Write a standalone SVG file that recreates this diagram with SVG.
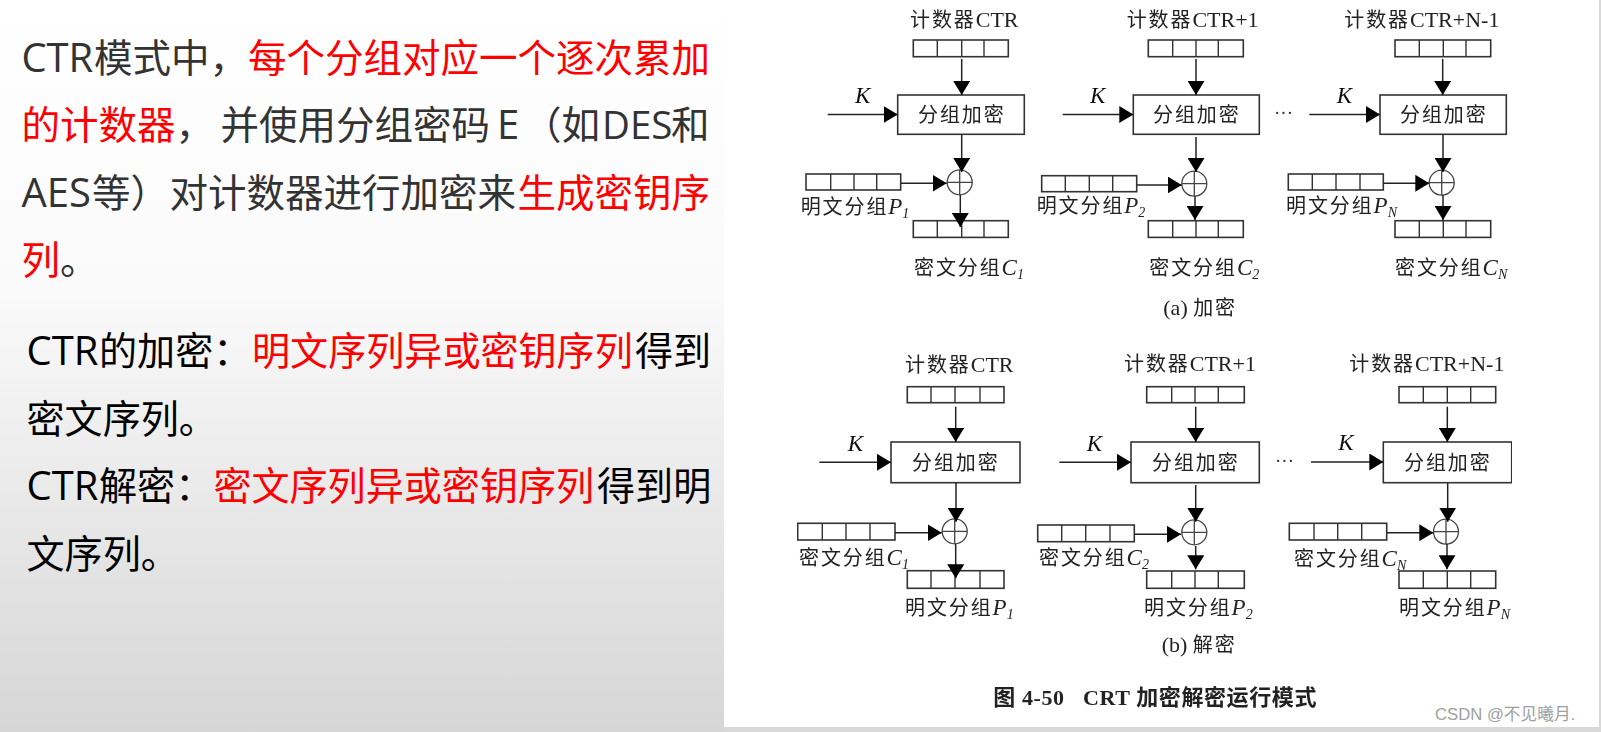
<svg xmlns="http://www.w3.org/2000/svg" width="1601" height="732" viewBox="0 0 1601 732">
<style>
.t{font-family:"Liberation Serif","Noto Sans CJK SC",serif;font-size:22px;fill:#222}
.cj{font-family:"Noto Sans CJK SC",sans-serif;font-size:20px;letter-spacing:1.9px}
.i{font-style:italic;font-size:23px}
.s{font-style:italic;font-size:14px}
.k{font-family:"Liberation Serif",serif;font-style:italic;font-size:23px;fill:#111}
.cell{fill:#fff;stroke:#333;stroke-width:1.6}
.out{fill:none;stroke:#333;stroke-width:1.6}
.div{fill:none;stroke:#333;stroke-width:1.4}
.enc{fill:#fff;stroke:#333;stroke-width:1.6}
.xor{fill:#fff;stroke:#444;stroke-width:1.3}
.con{fill:none;stroke:#222;stroke-width:1.5;marker-end:url(#ah)}
.dots{font-family:"Liberation Serif",serif;font-size:19px;fill:#333}
.p{font-family:"Open Sans","Noto Sans CJK SC",sans-serif;font-size:38.5px}
.q{font-size:38.1px}
.lat{font-size:40px}
.r{fill:#f00}
.d{fill:#333}
.b{fill:#000}
</style>
<defs>
<linearGradient id="bg" x1="0" y1="0" x2="0" y2="1"><stop offset="0" stop-color="#fff"/><stop offset="0.4" stop-color="#fafafa"/><stop offset="1" stop-color="#d6d6d6"/></linearGradient>
<marker id="ah" markerUnits="userSpaceOnUse" markerWidth="15" markerHeight="17" refX="14" refY="8.5" orient="auto"><path d="M0 0L14 8.5L0 17Z" fill="#000"/></marker>
<filter id="soft" x="0" y="0" width="1" height="1" filterUnits="objectBoundingBox"><feGaussianBlur stdDeviation="0.45"/></filter>
</defs>
<rect width="1601" height="732" fill="#d9d9d9"/>
<rect id="left-panel" width="724" height="732" fill="url(#bg)"/>
<rect id="right-panel" x="724" width="875" height="727" fill="#fff"/>

<g id="left-text">
<text class="p d" x="21.4" y="72"><tspan class="lat">CTR</tspan><tspan x="94">模式中，</tspan><tspan class="r" x="248">每个分组对应一个逐次累加</tspan></text>
<text class="p r" x="21.4" y="139">的计数器<tspan class="d">，</tspan><tspan class="d" x="220.5">并使用分组密码</tspan><tspan class="d lat" x="497">E</tspan><tspan class="d" x="523">（如</tspan><tspan class="d" x="602">DES</tspan><tspan class="d" x="671">和</tspan></text>
<text class="p d" x="21.4" y="207"><tspan class="lat">AES</tspan><tspan x="92">等）</tspan><tspan x="169.5">对计数器进行加密来</tspan><tspan class="r" x="517.6">生成密钥序</tspan></text>
<text class="p r" x="21.4" y="274">列<tspan class="d">。</tspan></text>
<text class="p q b" x="26.5" y="365"><tspan class="lat">CTR</tspan><tspan x="99">的加密：</tspan><tspan class="r" x="252">明文序列异或密钥序列</tspan><tspan x="635">得到</tspan></text>
<text class="p q b" x="26.5" y="433">密文序列。</text>
<text class="p q b" x="26.5" y="500"><tspan class="lat">CTR</tspan><tspan x="99">解密：</tspan><tspan class="r" x="213.4">密文序列异或密钥序列</tspan><tspan x="597">得到明</tspan></text>
<text class="p q b" x="26.5" y="568">文序列。</text>
</g>

<g id="diagram" filter="url(#soft)">
<g id="a1-ctr"><text class="t" x="910" y="26.7"><tspan class="cj">计数器</tspan>CTR</text><rect class="cell" x="913.3" y="40" width="95" height="16.7"/><path class="div" d="M937.3 40v16.7M961.7 40v16.7M984 40v16.7"/></g>
<g id="a1-enc"><text class="k" x="855" y="103">K</text><rect class="enc" x="897.7" y="95" width="126.6" height="39.3"/><text class="t" x="918" y="122"><tspan class="cj">分组加密</tspan></text></g>
<g id="a1-in"><rect class="cell" x="806" y="174" width="94.7" height="16"/><path class="div" d="M830.7 174v16M854 174v16M876.7 174v16"/><text class="t" x="800.7" y="214"><tspan class="cj">明文分组</tspan><tspan class="i">P</tspan><tspan class="s" dy="4">1</tspan></text></g>
<g id="a1-xor"><circle class="xor" cx="959.7" cy="182.3" r="12.5"/><path class="xor" d="M947.2 182.3h25M959.7 169.8v25"/></g>
<g id="a1-out"><rect class="out" x="913.3" y="220.7" width="95" height="16.7"/><path class="div" d="M937.3 220.7v16.7M961.7 220.7v16.7M984 220.7v16.7"/><text class="t" x="914" y="275"><tspan class="cj">密文分组</tspan><tspan class="i">C</tspan><tspan class="s" dy="4">1</tspan></text></g>

<g id="a2-ctr"><text class="t" x="1126.7" y="26.7"><tspan class="cj">计数器</tspan>CTR+1</text><rect class="cell" x="1148.3" y="40" width="95" height="16.7"/><path class="div" d="M1172.7 40v16.7M1196 40v16.7M1218.3 40v16.7"/></g>
<g id="a2-enc"><text class="k" x="1090" y="103">K</text><rect class="enc" x="1133.3" y="95" width="126" height="39.3"/><text class="t" x="1153" y="122"><tspan class="cj">分组加密</tspan></text></g>
<g id="a2-in"><rect class="cell" x="1041.7" y="175.7" width="95" height="16"/><path class="div" d="M1065.3 175.7v16M1089.3 175.7v16M1112.7 175.7v16"/><text class="t" x="1036.7" y="213"><tspan class="cj">明文分组</tspan><tspan class="i">P</tspan><tspan class="s" dy="4">2</tspan></text></g>
<g id="a2-xor"><circle class="xor" cx="1194.3" cy="183.7" r="12.5"/><path class="xor" d="M1181.8 183.7h25M1194.3 171.2v25"/></g>
<g id="a2-out"><rect class="out" x="1148.3" y="220.7" width="95" height="16.7"/><path class="div" d="M1172.7 220.7v16.7M1196 220.7v16.7M1218.3 220.7v16.7"/><text class="t" x="1149.3" y="275"><tspan class="cj">密文分组</tspan><tspan class="i">C</tspan><tspan class="s" dy="4">2</tspan></text></g>

<text id="a-dots" class="dots" x="1274" y="119">···</text>

<g id="a3-ctr"><text class="t" x="1344.3" y="26.7"><tspan class="cj">计数器</tspan>CTR+N-1</text><rect class="cell" x="1395" y="40" width="95.7" height="16.7"/><path class="div" d="M1419.3 40v16.7M1443.3 40v16.7M1466 40v16.7"/></g>
<g id="a3-enc"><text class="k" x="1336.7" y="103">K</text><rect class="enc" x="1380" y="95" width="126.3" height="39.3"/><text class="t" x="1400" y="122"><tspan class="cj">分组加密</tspan></text></g>
<g id="a3-in"><rect class="cell" x="1288.3" y="174" width="95" height="16"/><path class="div" d="M1312.3 174v16M1336 174v16M1360 174v16"/><text class="t" x="1286" y="212.7"><tspan class="cj">明文分组</tspan><tspan class="i">P</tspan><tspan class="s" dy="4">N</tspan></text></g>
<g id="a3-xor"><circle class="xor" cx="1441.7" cy="182.7" r="12.5"/><path class="xor" d="M1429.2 182.7h25M1441.7 170.2v25"/></g>
<g id="a3-out"><rect class="out" x="1395" y="220.7" width="95.7" height="16.7"/><path class="div" d="M1419.3 220.7v16.7M1443.3 220.7v16.7M1466 220.7v16.7"/><text class="t" x="1395" y="275"><tspan class="cj">密文分组</tspan><tspan class="i">C</tspan><tspan class="s" dy="4">N</tspan></text></g>

<text id="a-caption" class="t" x="1163.3" y="315">(a) <tspan class="cj">加密</tspan></text>

<g id="b1-ctr"><text class="t" x="905" y="372"><tspan class="cj">计数器</tspan>CTR</text><rect class="cell" x="907.3" y="386.7" width="96.7" height="16"/><path class="div" d="M931 386.7v16M955 386.7v16M980 386.7v16"/></g>
<g id="b1-enc"><text class="k" x="847.7" y="450.5">K</text><rect class="enc" x="891" y="442" width="129" height="40.7"/><text class="t" x="912" y="469.5"><tspan class="cj">分组加密</tspan></text></g>
<g id="b1-in"><rect class="cell" x="797.7" y="523.3" width="97.3" height="16.7"/><path class="div" d="M822.3 523.3v16.7M846 523.3v16.7M870 523.3v16.7"/><text class="t" x="799" y="565"><tspan class="cj">密文分组</tspan><tspan class="i">C</tspan><tspan class="s" dy="4">1</tspan></text></g>
<g id="b1-xor"><circle class="xor" cx="954.7" cy="531.3" r="12.5"/><path class="xor" d="M942.2 531.3h25M954.7 518.8v25"/></g>
<g id="b1-out"><rect class="out" x="907.3" y="570.7" width="96.7" height="17.6"/><path class="div" d="M931 570.7v17.6M955 570.7v17.6M980 570.7v17.6"/><text class="t" x="905" y="615"><tspan class="cj">明文分组</tspan><tspan class="i">P</tspan><tspan class="s" dy="4">1</tspan></text></g>

<g id="b2-ctr"><text class="t" x="1124" y="370.7"><tspan class="cj">计数器</tspan>CTR+1</text><rect class="cell" x="1146.7" y="386.7" width="97.6" height="16"/><path class="div" d="M1171.7 386.7v16M1195 386.7v16M1218.3 386.7v16"/></g>
<g id="b2-enc"><text class="k" x="1086.7" y="450.5">K</text><rect class="enc" x="1131" y="442" width="128.3" height="40.7"/><text class="t" x="1152" y="469.5"><tspan class="cj">分组加密</tspan></text></g>
<g id="b2-in"><rect class="cell" x="1037.7" y="525" width="96.6" height="16.7"/><path class="div" d="M1061.7 525v16.7M1085.7 525v16.7M1110 525v16.7"/><text class="t" x="1039" y="565"><tspan class="cj">密文分组</tspan><tspan class="i">C</tspan><tspan class="s" dy="4">2</tspan></text></g>
<g id="b2-xor"><circle class="xor" cx="1194.3" cy="532.3" r="12.5"/><path class="xor" d="M1181.8 532.3h25M1194.3 519.8v25"/></g>
<g id="b2-out"><rect class="out" x="1146.7" y="571" width="97.6" height="17.3"/><path class="div" d="M1171.7 571v17.3M1195 571v17.3M1218.3 571v17.3"/><text class="t" x="1144" y="615"><tspan class="cj">明文分组</tspan><tspan class="i">P</tspan><tspan class="s" dy="4">2</tspan></text></g>

<text id="b-dots" class="dots" x="1275" y="467">···</text>

<g id="b3-ctr"><text class="t" x="1349.3" y="370.7"><tspan class="cj">计数器</tspan>CTR+N-1</text><rect class="cell" x="1399" y="386.7" width="96.7" height="16"/><path class="div" d="M1423.3 386.7v16M1447.3 386.7v16M1470.7 386.7v16"/></g>
<g id="b3-enc"><text class="k" x="1338.3" y="450">K</text><rect class="enc" x="1383.3" y="442" width="128.4" height="40.7"/><text class="t" x="1404" y="469.5"><tspan class="cj">分组加密</tspan></text></g>
<g id="b3-in"><rect class="cell" x="1289.3" y="523.3" width="97.4" height="16.7"/><path class="div" d="M1314 523.3v16.7M1337.7 523.3v16.7M1361.7 523.3v16.7"/><text class="t" x="1294" y="566"><tspan class="cj">密文分组</tspan><tspan class="i">C</tspan><tspan class="s" dy="4">N</tspan></text></g>
<g id="b3-xor"><circle class="xor" cx="1446" cy="531.7" r="12.5"/><path class="xor" d="M1433.5 531.7h25M1446 519.2v25"/></g>
<g id="b3-out"><rect class="out" x="1399" y="571" width="96.7" height="17.3"/><path class="div" d="M1423.3 571v17.3M1447.3 571v17.3M1470.7 571v17.3"/><text class="t" x="1399" y="615"><tspan class="cj">明文分组</tspan><tspan class="i">P</tspan><tspan class="s" dy="4">N</tspan></text></g>

<text id="b-caption" class="t" x="1161.7" y="652">(b) <tspan class="cj">解密</tspan></text>
<text id="figure-caption" x="993.3" y="705" style="font-family:'Liberation Serif','Noto Sans CJK SC',serif;font-size:22px;font-weight:bold;letter-spacing:.6px;fill:#222;white-space:pre">图 4-50   CRT 加密解密运行模式</text>

<g id="connectors">
<path class="con" d="M961.7 59V95"/><path class="con" d="M827.7 114.5H897.7"/><path class="con" d="M961.7 134.3V172"/><path class="con" d="M900.7 183.3H946.7"/><path class="con" d="M960.3 195V227"/>
<path class="con" d="M1196 59V95"/><path class="con" d="M1062.7 114.5H1133.3"/><path class="con" d="M1196 137V172"/><path class="con" d="M1136.7 185H1181.7"/><path class="con" d="M1195 196V220"/>
<path class="con" d="M1442.7 59V95"/><path class="con" d="M1309.3 114.5H1380"/><path class="con" d="M1443 134.3V172"/><path class="con" d="M1383.3 183.3H1429.3"/><path class="con" d="M1443 195V220"/>
<path class="con" d="M955.7 406.7V442"/><path class="con" d="M819.3 462.3H891"/><path class="con" d="M956 482.7V521.7"/><path class="con" d="M895 532.7H941.7"/><path class="con" d="M955.7 544V578.3"/>
<path class="con" d="M1195.7 406.7V442"/><path class="con" d="M1059.3 462.3H1131"/><path class="con" d="M1195.7 485V521.7"/><path class="con" d="M1134.3 534.3H1181"/><path class="con" d="M1195.7 546V569.3"/>
<path class="con" d="M1447.3 406.7V442"/><path class="con" d="M1311 462H1383.3"/><path class="con" d="M1447.7 483V521.7"/><path class="con" d="M1386.7 532.7H1433.3"/><path class="con" d="M1447 544V569.3"/>
</g>
</g>
<text id="watermark" x="1435" y="719.5" style="font-family:'Liberation Sans','Noto Sans CJK SC',sans-serif;font-size:16.7px;fill:#a0a0a0">CSDN @不见曦月.</text>
</svg>
